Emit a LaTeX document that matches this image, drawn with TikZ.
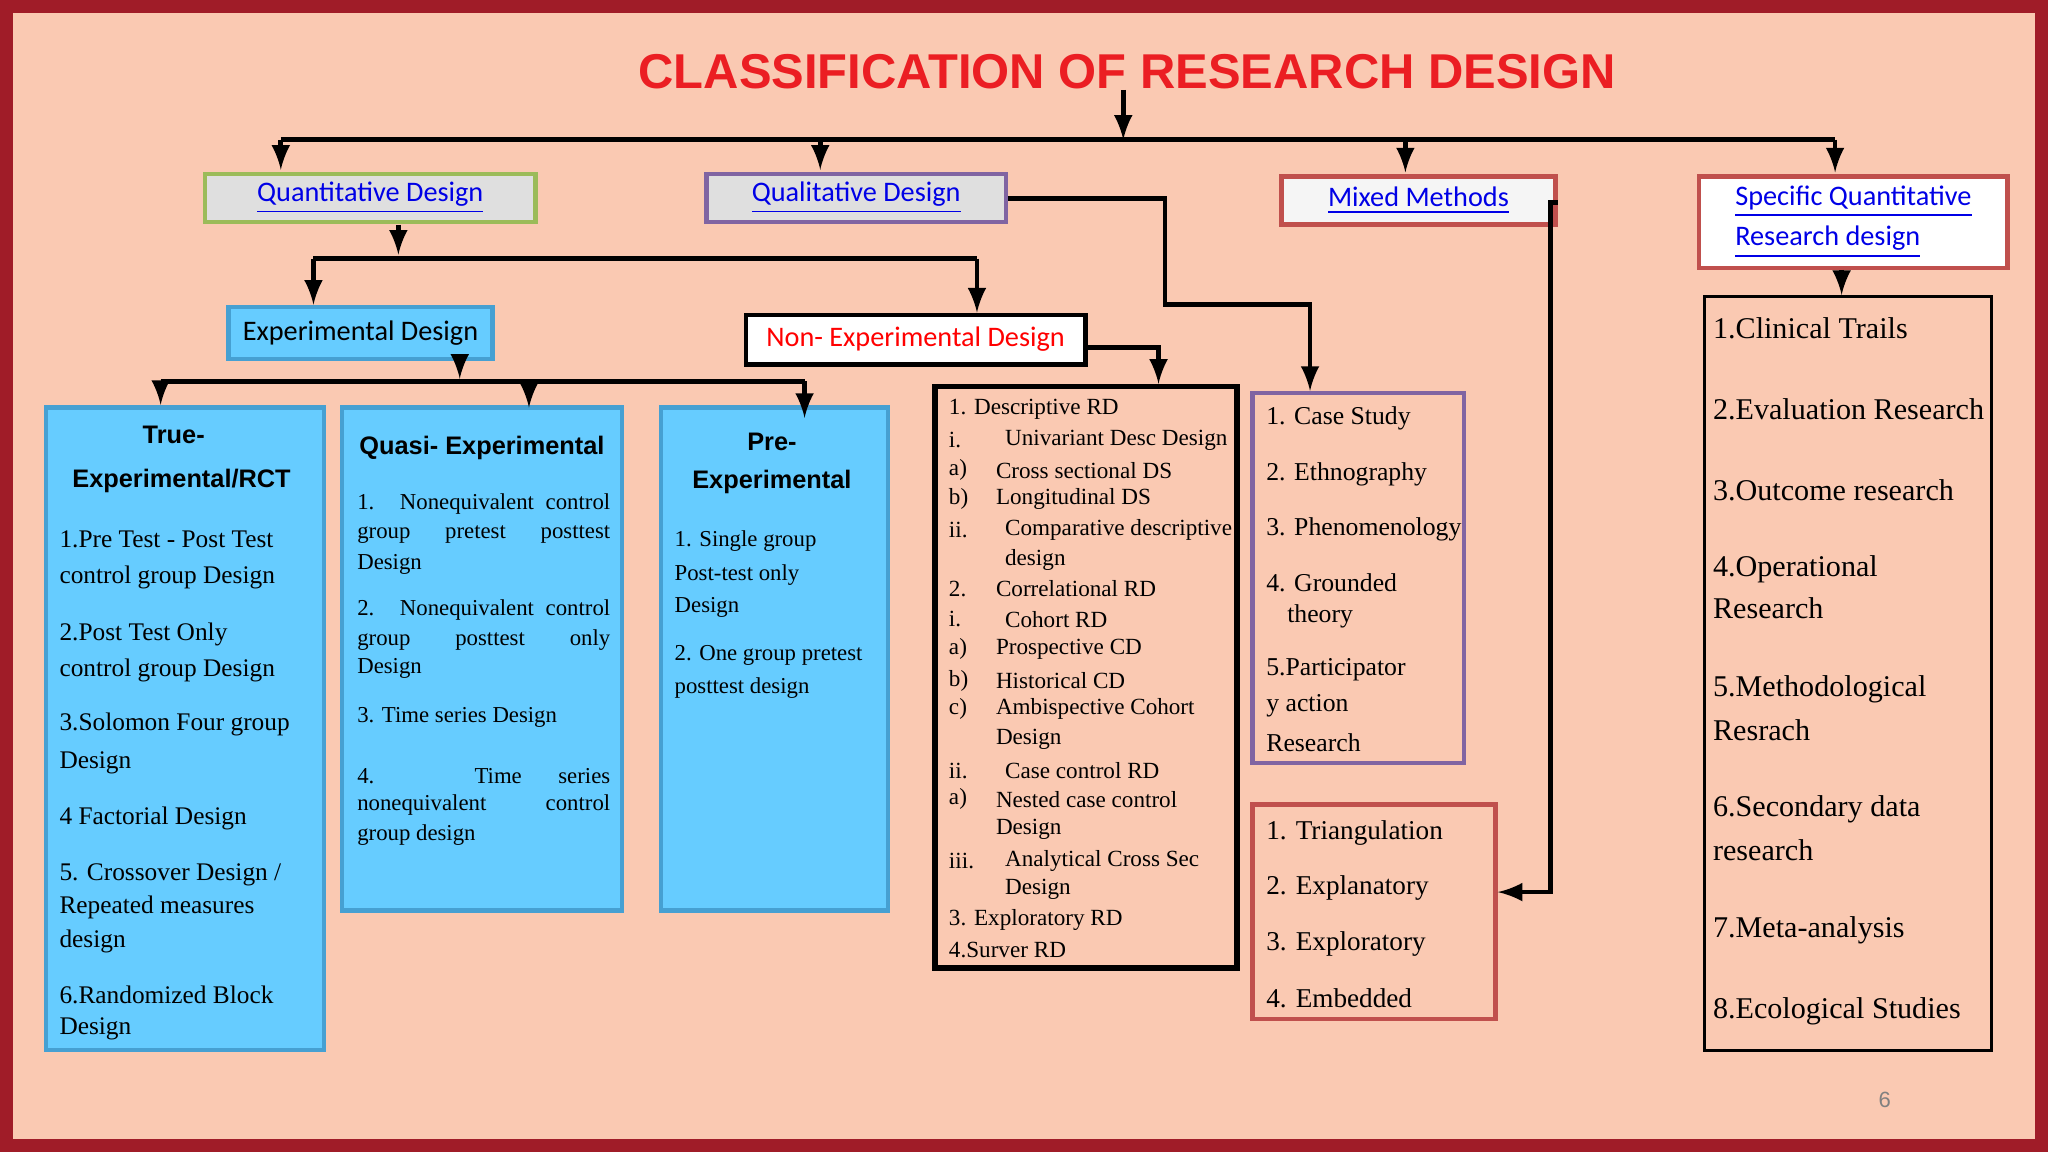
\documentclass[tikz,border=0pt]{standalone}
\usepackage{fontspec}
\setmainfont{Liberation Serif}
\newfontfamily\calib{Carlito}
\newfontfamily\arl{Liberation Sans}
\usetikzlibrary{fit,arrows}
\definecolor{frame}{RGB}{160,28,40}
\definecolor{salmon}{RGB}{250,201,178}
\definecolor{skyb}{RGB}{102,204,255}
\definecolor{skyline}{RGB}{70,160,210}
\definecolor{olive}{RGB}{155,187,89}
\definecolor{purp}{RGB}{128,100,162}
\definecolor{redb}{RGB}{192,80,77}
\definecolor{linkb}{RGB}{0,0,230}
\definecolor{titler}{RGB}{235,30,35}
\tikzset{
  arr/.style={-latex,line width=1.3pt},
  ln/.style={line width=1.3pt},
  box/.style={inner sep=0pt,line width=1.2pt},
  head/.style={font=\calib\fontsize{7.7}{9}\selectfont},
  lst/.style={anchor=west,inner sep=0pt},
  bh/.style={font=\arl\bfseries\fontsize{6.9}{8}\selectfont,inner sep=0pt}
}
\newcommand{\lnk}[1]{\textcolor{linkb}{\underline{#1}}}
\begin{document}
\begin{tikzpicture}[x=0.0125cm,y=-0.0125cm]
\fill[frame] (0,0) rectangle (1568,882);
\fill[salmon] (10,10) rectangle (1558,872);

% title
\node[inner sep=0pt,text=titler,font=\arl\bfseries] (title) at (863,55)
  {\resizebox{9.35cm}{!}{CLASSIFICATION OF RESEARCH DESIGN}};

% first level
\node[box,draw=olive,fill=gray!25,fit={(157,133)(410,170)}] (quant) {};
\node[head] at (quant) {\lnk{Quantitative Design}};
\node[box,draw=purp,fill=gray!25,fit={(541,133)(770,170)}] (qual) {};
\node[head] at (qual) {\lnk{Qualitative Design}};
\node[box,draw=redb,fill=gray!8,fit={(981,135)(1191,172)}] (mixed) {};
\node[head] at (mixed) {\lnk{Mixed Methods}};
\node[box,draw=redb,fill=white,fit={(1301,135)(1537,205)}] (spec) {};
\node[head,align=left] at (spec) {\lnk{Specific Quantitative}\\[2pt]\lnk{Research design}};

\coordinate (hub) at (860,107);
\draw[arr] (title.south -| hub) -- (hub);
\draw[ln] (215,107) -- (1405,107);
\draw[arr] (215,107) -- (215,130);
\draw[arr] (628,107) -- (628,130);
\draw[arr] (1076,107) -- (1076,132);
\draw[arr] (1405,107) -- (1405,132);

% second level
\node[box,draw=skyline,fill=skyb,fit={(175,235)(377,275)}] (exp) {};
\node[head] at (exp) {Experimental Design};
\node[box,draw=black,fill=white,fit={(571,241)(831,279)}] (nonexp) {};
\node[head,text=red] at (nonexp) {Non- Experimental Design};

\draw[arr] (305,172) -- (305,195);
\draw[ln] (240,198) -- (748,198);
\draw[arr] (240,198) -- (exp.north -| 240,0);
\draw[arr] (748,198) -- (nonexp.north -| 748,0);

% lists
\node[box,draw=skyline,fill=skyb,fit={(35,312)(248,804)}] (trueexp) {};
\node[box,draw=skyline,fill=skyb,fit={(262,312)(476,697)}] (quasi) {};
\node[box,draw=skyline,fill=skyb,fit={(506,312)(680,697)}] (pre) {};
\node[box,draw=black,line width=1.5pt,fit={(716,296)(947,741)}] (desc) {};
\node[box,draw=purp,fit={(959,301)(1121,584)}] (quallist) {};
\node[box,draw=redb,fit={(959,616)(1145,780)}] (mixlist) {};
\node[box,draw=black,line width=0.8pt,fit={(1305,227)(1525,804)}] (speclist) {};

\draw[arr] (352,277) -- (352,290);
\draw[ln] (123,292) -- (616,292);
\draw[arr] (123,292) -- (123,310);
\draw[arr] (405,292) -- (405,312);
\draw[arr] (616,292) -- (616,320);
\draw[arr] (nonexp.east |- 0,266) -- (887,266) -- (desc.north -| 887,0);
\draw[arr] (qual.east |- 0,152) -- (892,152) -- (892,233) -- (1003,233) -- (quallist.north -| 1003,0);
\draw[arr] (mixed.east |- 0,155) -- (1187,155) -- (1187,683) -- (mixlist.east |- 0,683);
\draw[arr] (spec.south -| 1410,0) -- (speclist.north -| 1410,0);

% true experimental
\node[bh] at (133,333) {True-};
\node[bh] at (139,368) {Experimental/RCT};
\foreach \y/\t in {413/{1.Pre Test - Post Test},442/{control group Design},486/{2.Post Test Only},
  513/{control group Design},555/{3.Solomon Four group},584/{Design},627/{4 Factorial Design},
  670/{5. Crossover Design /},695/{Repeated measures},721/{design},762/{6.Randomized Block},788/{Design}}
  \node[lst,font=\fontsize{6.9}{8}\selectfont] at (45,\y) {\t};

% quasi
\node[bh] at (369,343) {Quasi- Experimental};
\foreach \y/\t in {386/{1. Nonequivalent control},409/{group pretest posttest},467/{2. Nonequivalent control},
  490/{group posttest only},594/{4. Time series},616/{nonequivalent control}}
  \node[lst,font=\fontsize{6.2}{7}\selectfont] at (273,\y) {\makebox[2.42cm][s]{\t}};
\foreach \y/\t in {432/{Design},512/{Design},549/{3. Time series Design},639/{group design}}
  \node[lst,font=\fontsize{6.2}{7}\selectfont] at (273,\y) {\t};

% pre experimental
\node[bh] at (591,338) {Pre-};
\node[bh] at (591,369) {Experimental};
\foreach \y/\t in {414/{1. Single group},440/{Post-test only},465/{Design},502/{2. One group pretest},527/{posttest design}}
  \node[lst,font=\fontsize{6.2}{7}\selectfont] at (516,\y) {\t};

% non experimental
\foreach \y/\a/\x/\t in {313/{}/726/{1. Descriptive RD},337/{i.}/769/{Univariant Desc Design},
  360/{a)}/762/{Cross sectional DS},382/{b)}/762/{Longitudinal DS},406/{ii.}/769/{Comparative descriptive},
  429/{}/769/{design},451/{2.}/762/{Correlational RD},474/{i.}/769/{Cohort RD},
  497/{a)}/762/{Prospective CD},521/{b)}/762/{Historical CD},543/{c)}/762/{Ambispective Cohort},
  566/{}/762/{Design},590/{ii.}/769/{Case control RD},612/{a)}/762/{Nested case control},
  635/{}/762/{Design},659/{iii.}/769/{Analytical Cross Sec},681/{}/769/{Design},
  704/{}/726/{3. Exploratory RD},727/{}/726/{4.Surver RD}}{
  \node[lst,font=\fontsize{6.3}{7}\selectfont] at (726,\y) {\a};
  \node[lst,font=\fontsize{6.3}{7}\selectfont] at (\x,\y) {\t};
}

% qualitative
\foreach \y/\x/\t in {320/969/{1. Case Study},363/969/{2. Ethnography},405/969/{3. Phenomenology},
  446/969/{4. Grounded},472/985/{theory},513/969/{5.Participator},540/969/{y action},569/969/{Research}}
  \node[lst,font=\fontsize{7}{8}\selectfont] at (\x,\y) {\t};

% mixed
\foreach \y/\t in {638/{1. Triangulation},680/{2. Explanatory},723/{3. Exploratory},764/{4. Embedded}}
  \node[lst,font=\fontsize{7.4}{8}\selectfont] at (969,\y) {\t};

% specific
\foreach \y/\t in {251/{1.Clinical Trails},313/{2.Evaluation Research},375/{3.Outcome research},
  436/{4.Operational},466/{Research},528/{5.Methodological},559/{Resrach},620/{6.Secondary data},
  651/{research},712/{7.Meta-analysis},774/{8.Ecological Studies}}
  \node[lst,font=\fontsize{8.2}{9}\selectfont] at (1311,\y) {\t};

\node[font=\arl\fontsize{6}{7}\selectfont,text=gray] (pagenum) at (1443,842) {6};
\end{tikzpicture}
\end{document}
